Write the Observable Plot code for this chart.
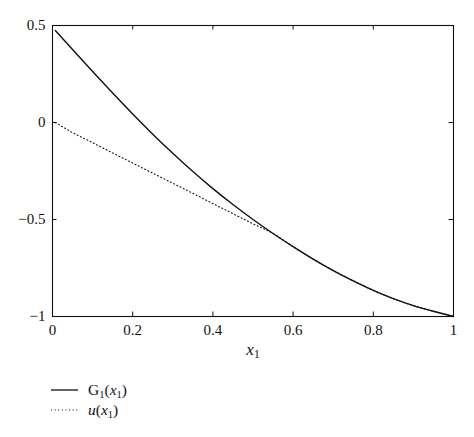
<!DOCTYPE html>
<html>
<head>
<meta charset="utf-8">
<script src="https://cdn.jsdelivr.net/npm/d3@7"></script>
<script src="https://cdn.jsdelivr.net/npm/@observablehq/plot@0.6"></script>
<style>
  body { margin: 0; background: #fff; font-family: 'Liberation Serif', 'DejaVu Serif', serif; }
  #legend { position: relative; width: 474px; height: 67px; font-size: 15.5px; color: #111; font-family: 'Liberation Serif', serif; }
  .row { position: absolute; left: 51px; display: flex; align-items: center; height: 20px; }
  .row svg { width: 27px; height: 4px; margin-right: 10px; }
  sub { font-size: 68%; vertical-align: -0.3em; line-height: 0; }
</style>
</head>
<body>
<div id="chart"></div>
<div id="legend">
  <div class="row" style="top:10px"><svg><line x1="0" x2="27" y1="2" y2="2" stroke="#111" stroke-width="1.3"/></svg><span>G<sub>1</sub>(<i>x</i><sub>1</sub>)</span></div>
  <div class="row" style="top:30px"><svg><line x1="0" x2="27" y1="2" y2="2" stroke="#111" stroke-width="1.1" stroke-dasharray="1,2.6"/></svg><span><i>u</i>(<i>x</i><sub>1</sub>)</span></div>
</div>
<script>
// x1 sample positions
const xs = [0.007, 0.05, 0.10, 0.15, 0.20, 0.25, 0.30, 0.35, 0.40, 0.45, 0.50,
            0.55, 0.60, 0.65, 0.70, 0.75, 0.80, 0.85, 0.90, 0.95, 1.00];
// G1(x1) values
const g1 = [0.474, 0.376, 0.263, 0.152, 0.044, -0.060, -0.159, -0.253, -0.341, -0.423, -0.500,
            -0.572, -0.640, -0.704, -0.763, -0.816, -0.865, -0.908, -0.944, -0.973, -1.000];
// u(x1) values (merges with G1 after ~0.55)
const u  = [0.000, -0.052, -0.104, -0.157, -0.209, -0.261, -0.313, -0.365, -0.418, -0.470, -0.522,
            -0.572, -0.640, -0.704, -0.763, -0.816, -0.865, -0.908, -0.944, -0.973, -1.000];
const xTicks = [0, 0.2, 0.4, 0.6, 0.8, 1];
const yTicks = [0.5, 0, -0.5, -1];

const gData = xs.map((x, i) => ({x, y: g1[i]}));
const uData = xs.map((x, i) => ({x, y: u[i]}));

const W = 474, H = 370, mL = 52, mR = 21, mT = 25, mB = 54;
const plotW = W - mL - mR, plotH = H - mT - mB, tl = 4.5;
const fmt = d => d === 0 ? "0" : d3.format("~g")(d).replace("-", "\u2212");

const chart = Plot.plot({
  width: W, height: H,
  marginLeft: mL, marginRight: mR, marginTop: mT, marginBottom: mB,
  style: {fontFamily: "'Liberation Serif', 'DejaVu Serif', serif", fontSize: "15px", color: "#111", background: "#fff"},
  x: {domain: [0, 1]},
  y: {domain: [-1, 0.5]},
  marks: [
    Plot.frame({stroke: "#111", strokeWidth: 1.1}),
    Plot.tickX(xTicks, {x: d => d, insetTop: plotH - tl, stroke: "#111"}),
    Plot.tickX(xTicks, {x: d => d, insetBottom: plotH - tl, stroke: "#111"}),
    Plot.tickY(yTicks, {y: d => d, insetRight: plotW - tl, stroke: "#111"}),
    Plot.tickY(yTicks, {y: d => d, insetLeft: plotW - tl, stroke: "#111"}),
    Plot.axisX({ticks: xTicks, tickSize: 0, tickPadding: 8, tickFormat: fmt,
                label: "x1", labelAnchor: "center", labelArrow: "none", labelOffset: 38}),
    Plot.axisY({ticks: yTicks, tickSize: 0, tickPadding: 7, tickFormat: fmt, label: null}),
    Plot.line(uData, {x: "x", y: "y", stroke: "#111", strokeWidth: 1.1, strokeDasharray: "1,2.6", curve: "monotone-x"}),
    Plot.line(gData, {x: "x", y: "y", stroke: "#111", strokeWidth: 1.4, curve: "monotone-x"})
  ]
});
document.getElementById("chart").appendChild(chart);

// style the axis label: italic x with upright subscript 1
d3.select(chart).selectAll("g[aria-label='x-axis label'] text").each(function() {
  const t = d3.select(this);
  t.text(null).attr("font-size", 17);
  t.append("tspan").attr("font-style", "italic").text("x");
  t.append("tspan").attr("font-size", 11.5).attr("dy", "0.3em").text("1");
});
</script>
</body>
</html>
